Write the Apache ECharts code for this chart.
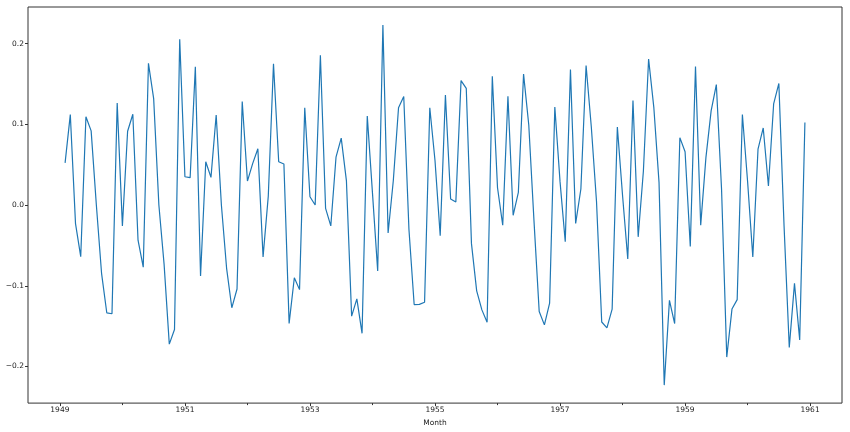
<!DOCTYPE html>
<html>
<head>
<meta charset="utf-8">
<script src="https://cdn.jsdelivr.net/npm/echarts@6/dist/echarts.min.js"></script>
<style>html,body{margin:0;padding:0;background:#fff}#c{width:850px;height:432px}</style>
</head>
<body>
<div id="c"></div>
<script>
// Monthly log-difference series, starting 1949-02, ending 1960-12
const startYear = 1949;
const startMonth = 2;
const values = [
  0.0522, 0.1121, -0.0230, -0.0640, 0.1095, 0.0919, 0.0000, -0.0846, -0.1335, -0.1347, 0.1263,
  -0.0258, 0.0914, 0.1125, -0.0435, -0.0770, 0.1756, 0.1319, 0.0000, -0.0732, -0.1723, -0.1542, 0.2054,
  0.0351, 0.0339, 0.1712, -0.0880, 0.0537, 0.0343, 0.1115, 0.0000, -0.0784, -0.1273, -0.1040, 0.1284,
  0.0297, 0.0513, 0.0697, -0.0642, 0.0110, 0.1750, 0.0536, 0.0509, -0.1466, -0.0901, -0.1048, 0.1204,
  0.0103, 0.0000, 0.1857, -0.0042, -0.0259, 0.0593, 0.0829, 0.0299, -0.1377, -0.1162, -0.1589, 0.1103,
  0.0148, -0.0817, 0.2231, -0.0346, 0.0304, 0.1206, 0.1345, -0.0303, -0.1233, -0.1231, -0.1205, 0.1205,
  0.0552, -0.0379, 0.1362, 0.0075, 0.0037, 0.1542, 0.1446, -0.0478, -0.1063, -0.1299, -0.1451, 0.1596,
  0.0214, -0.0250, 0.1349, -0.0127, 0.0158, 0.1622, 0.0992, -0.0196, -0.1318, -0.1485, -0.1215, 0.1215,
  0.0290, -0.0455, 0.1678, -0.0227, 0.0199, 0.1729, 0.0970, 0.0043, -0.1449, -0.1521, -0.1290, 0.0968,
  0.0118, -0.0669, 0.1296, -0.0394, 0.0422, 0.1809, 0.1211, 0.0281, -0.2231, -0.1181, -0.1468, 0.0835,
  0.0660, -0.0513, 0.1715, -0.0249, 0.0588, 0.1167, 0.1493, 0.0199, -0.1884, -0.1289, -0.1172, 0.1122,
  0.0292, -0.0644, 0.0692, 0.0955, 0.0236, 0.1253, 0.1507, -0.0261, -0.1764, -0.0971, -0.1673, 0.1023
];
const majorYears = [1949, 1951, 1953, 1955, 1957, 1959, 1961];
const minorYears = [1950, 1952, 1954, 1956, 1958, 1960];
const yTicks = [-0.2, -0.1, 0.0, 0.1, 0.2];
const xLabel = 'Month';

const points = values.map((v, i) => {
  const m = startMonth - 1 + i;
  return [startYear + m / 12, v];
});

const FONT = 'DejaVu Sans';
const chart = echarts.init(document.getElementById('c'));
const xMin = 1948.49, xMax = 1961.51;
chart.setOption({
  animation: false,
  grid: { left: 28, right: 8, top: 7, bottom: 28, show: true, borderColor: '#333', borderWidth: 1, backgroundColor: 'transparent' },
  xAxis: [
    {
      type: 'value', min: xMin, max: xMax, position: 'bottom',
      name: xLabel, nameLocation: 'middle', nameGap: 15,
      nameTextStyle: { fontFamily: FONT, fontSize: 7.5, color: '#222' },
      axisLine: { show: false, onZero: false },
      splitLine: { show: false },
      axisTick: { show: true, length: 3, lineStyle: { color: '#333', width: 1 }, customValues: majorYears },
      axisLabel: { show: true, fontFamily: FONT, fontSize: 7.5, color: '#222', margin: 3, customValues: majorYears, formatter: v => String(Math.round(v)) }
    },
    {
      type: 'value', min: xMin, max: xMax, position: 'bottom', gridIndex: 0,
      axisLine: { show: false, onZero: false }, splitLine: { show: false },
      axisTick: { show: true, length: 2, lineStyle: { color: '#333', width: 1 }, customValues: minorYears },
      axisLabel: { show: false }
    }
  ],
  yAxis: {
    type: 'value', min: -0.2454, max: 0.2454,
    axisLine: { show: false, onZero: false }, splitLine: { show: false },
    axisTick: { show: true, length: 3, lineStyle: { color: '#333', width: 1 }, customValues: yTicks },
    axisLabel: { show: true, fontFamily: FONT, fontSize: 7.5, color: '#222', margin: 4, customValues: yTicks,
      formatter: v => (v < 0 ? '\u2212' : '') + Math.abs(v).toFixed(1) }
  },
  series: [{
    type: 'line', data: points, xAxisIndex: 0, showSymbol: false, symbol: 'none',
    lineStyle: { color: '#1f77b4', width: 1.2 }, clip: true
  }]
});
</script>
</body>
</html>
